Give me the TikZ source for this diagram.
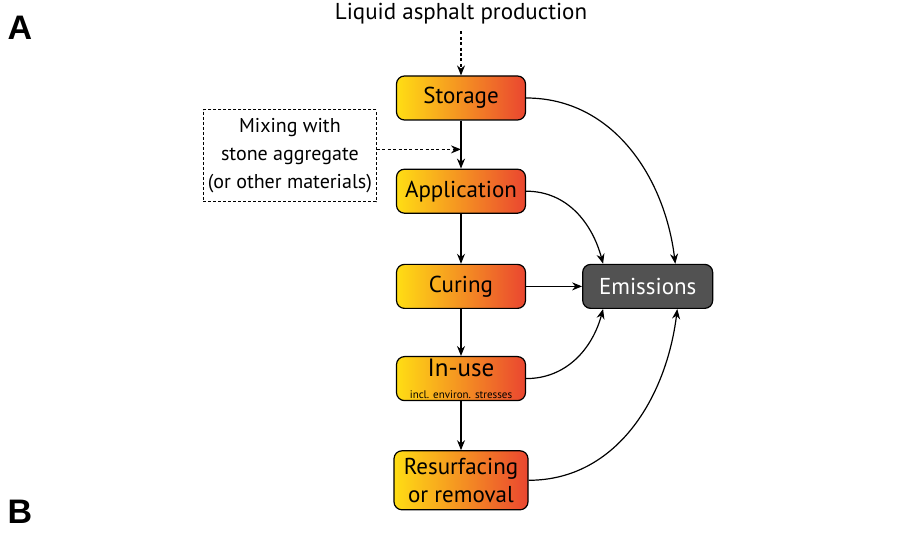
\documentclass[tikz,border=0pt]{standalone}
\usepackage{fontspec}
\setmainfont{PT Sans}
\setsansfont{PT Sans}
\newfontfamily\panelfont{Liberation Sans}
\usetikzlibrary{arrows.meta, positioning, calc}

\definecolor{asphYellow}{RGB}{255,221,20}
\definecolor{asphRed}{RGB}{234,70,48}
\definecolor{emisGray}{RGB}{82,82,82}

\begin{document}
\begin{tikzpicture}[
    x=0.5pt, y=0.5pt,
    node distance=24pt,
    font=\fontsize{11.5}{14}\selectfont,
    >={Stealth[length=5pt, width=4pt]},
    stage/.style={rectangle, rounded corners=4pt, draw, line width=0.6pt, left color=asphYellow, right color=asphRed, minimum width=64.5pt, minimum height=22pt, align=center, inner sep=1pt},
    sink/.style={rectangle, rounded corners=4pt, draw, line width=0.6pt, fill=emisGray, text=white, minimum width=65pt, minimum height=22pt},
    mixbox/.style={rectangle, draw, dash pattern=on 1.5pt off 1pt, line width=0.5pt, minimum width=86.5pt, minimum height=46pt, inner xsep=1pt, align=center, font=\fontsize{10}{14}\selectfont},
    flow/.style={->, line width=0.6pt},
    feed/.style={->, line width=0.6pt, dash pattern=on 1.5pt off 1.2pt},
    panel/.style={font=\fontsize{17}{17}\selectfont\panelfont\bfseries}
]
    \useasboundingbox (0,0) rectangle (918,-533);

    % Panel letters
    \node[panel] (panelA) at (20,-28) {A};
    \node[panel] (panelB) at (20,-512) {B};

    % Process stages
    \node[stage] (storage) at (461,-98) {Storage};
    \node[stage, below=of storage] (application) {Application};
    \node[stage, below=25pt of application] (curing) {Curing};
    \node[stage, below=23.5pt of curing] (inuse) {{\fontsize{12.5}{13}\selectfont In-use}\\[-3pt]{\fontsize{5.5}{6}\selectfont incl. environ. stresses}};
    \node[stage, below=24.5pt of inuse, minimum width=67pt, minimum height=29.5pt] (resurf) {Resurfacing\\or removal};

    \node[sink, right=28pt of curing] (emissions) {Emissions};

    % Inputs
    \node[above=22pt of storage] (source) {Liquid asphalt production};
    \node[mixbox, left=9.5pt of storage, yshift=-29pt] (mixing) {Mixing with\\stone aggregate\\(or other materials)};
    \coordinate (merge) at ($(storage.south)!0.6!(application.north)$);

    \draw[feed] (source) -- (storage);
    \draw[feed] (mixing.east |- merge) -- (merge);

    % Main chain
    \draw[flow] (storage) -- (application);
    \draw[flow] (application) -- (curing);
    \draw[flow] (curing) -- (inuse);
    \draw[flow] (inuse) -- (resurf);

    % Emission paths
    \draw[flow] (storage.east) to[out=0, in=97] ($(emissions.north east)+(-19pt,0)$);
    \draw[flow] (application.east) to[out=0, in=105] ($(emissions.north west)+(10.5pt,0)$);
    \draw[flow] (curing) -- (emissions);
    \draw[flow] (inuse.east) to[out=0, in=-105] ($(emissions.south west)+(10.5pt,0)$);
    \draw[flow] (resurf.east) to[out=0, in=-97] ($(emissions.south east)+(-18pt,0)$);

\end{tikzpicture}
\end{document}
